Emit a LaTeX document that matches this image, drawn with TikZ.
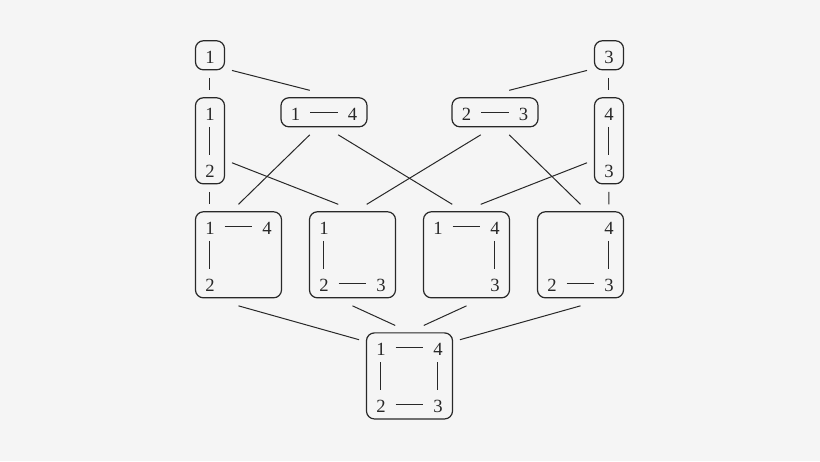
\documentclass[tikz,border=0pt]{standalone}
\usepackage{fontspec}
\setmainfont{Liberation Serif}
\usepackage{tikz}
\definecolor{bg}{RGB}{245,245,245}
\definecolor{ink}{RGB}{40,40,40}

\begin{document}
\begin{tikzpicture}[
    vtx/.style={inner sep=0pt, minimum size=0.5cm, text height=8.3pt, text depth=0pt, font=\fontsize{9.3}{11}\selectfont, text=ink},
    box/.style={draw=ink, rounded corners=4pt, inner sep=0pt, line width=0.6pt},
    link/.style={draw=ink, line width=0.5pt}]
  \fill[bg] (-3.684,0.970) rectangle (10.702,-7.118);

  % top row
  \node[box, minimum size=0.51cm](n1) at (0,0) {};
  \node[vtx](n1-1) at (0,0) {1};
  \node[box, minimum size=0.51cm](n3) at (7,0) {};
  \node[vtx](n3-3) at (7,0) {3};

  % one edge
  \node[box, minimum width=0.51cm, minimum height=1.51cm](n12) at (0,-1.5) {};
  \node[vtx](n12-1) at (0,-1) {1};
  \node[vtx](n12-2) at (0,-2) {2};
  \draw[link] (n12-1) -- (n12-2);

  \node[box, minimum width=1.51cm, minimum height=0.51cm](n14) at (2,-1) {};
  \node[vtx](n14-1) at (1.5,-1) {1};
  \node[vtx](n14-4) at (2.5,-1) {4};
  \draw[link] (n14-1) -- (n14-4);

  \node[box, minimum width=1.51cm, minimum height=0.51cm](n23) at (5,-1) {};
  \node[vtx](n23-2) at (4.5,-1) {2};
  \node[vtx](n23-3) at (5.5,-1) {3};
  \draw[link] (n23-2) -- (n23-3);

  \node[box, minimum width=0.51cm, minimum height=1.51cm](n43) at (7,-1.5) {};
  \node[vtx](n43-4) at (7,-1) {4};
  \node[vtx](n43-3) at (7,-2) {3};
  \draw[link] (n43-4) -- (n43-3);

  % two edges
  \node[box, minimum size=1.51cm](n142) at (0.5,-3.5) {};
  \node[vtx](n142-1) at (0,-3) {1};
  \node[vtx](n142-4) at (1,-3) {4};
  \node[vtx](n142-2) at (0,-4) {2};
  \draw[link] (n142-1) -- (n142-4);
  \draw[link] (n142-1) -- (n142-2);

  \node[box, minimum size=1.51cm](n123) at (2.5,-3.5) {};
  \node[vtx](n123-1) at (2,-3) {1};
  \node[vtx](n123-2) at (2,-4) {2};
  \node[vtx](n123-3) at (3,-4) {3};
  \draw[link] (n123-1) -- (n123-2);
  \draw[link] (n123-2) -- (n123-3);

  \node[box, minimum size=1.51cm](n143) at (4.5,-3.5) {};
  \node[vtx](n143-1) at (4,-3) {1};
  \node[vtx](n143-4) at (5,-3) {4};
  \node[vtx](n143-3) at (5,-4) {3};
  \draw[link] (n143-1) -- (n143-4);
  \draw[link] (n143-4) -- (n143-3);

  \node[box, minimum size=1.51cm](n423) at (6.5,-3.5) {};
  \node[vtx](n423-4) at (7,-3) {4};
  \node[vtx](n423-2) at (6,-4) {2};
  \node[vtx](n423-3) at (7,-4) {3};
  \draw[link] (n423-4) -- (n423-3);
  \draw[link] (n423-2) -- (n423-3);

  % all edges
  \node[box, minimum size=1.51cm](n1234) at (3.5,-5.625) {};
  \node[vtx](n1234-1) at (3,-5.125) {1};
  \node[vtx](n1234-4) at (4,-5.125) {4};
  \node[vtx](n1234-2) at (3,-6.125) {2};
  \node[vtx](n1234-3) at (4,-6.125) {3};
  \draw[link] (n1234-1) -- (n1234-4);
  \draw[link] (n1234-1) -- (n1234-2);
  \draw[link] (n1234-4) -- (n1234-3);
  \draw[link] (n1234-2) -- (n1234-3);

  % order lines
  \draw[link] ([yshift=-0.13cm]n1.south) -- ([yshift=0.12cm]n12.north);
  \draw[link] ([xshift=0.12cm]n1.south east) -- ([xshift=-0.25cm,yshift=0.12cm]n14.north);
  \draw[link] ([xshift=-0.12cm]n3.south west) -- ([xshift=0.25cm,yshift=0.12cm]n23.north);
  \draw[link] ([yshift=-0.13cm]n3.south) -- ([yshift=0.12cm]n43.north);

  \draw[link] ([yshift=-0.13cm]n12.south) -- ([xshift=-0.5cm,yshift=0.12cm]n142.north);
  \draw[link] ([xshift=0.12cm,yshift=0.38cm]n12.south east) -- ([xshift=-0.25cm,yshift=0.12cm]n123.north);
  \draw[link] ([xshift=-0.25cm,yshift=-0.13cm]n14.south) -- ([yshift=0.12cm]n142.north);
  \draw[link] ([xshift=0.25cm,yshift=-0.13cm]n14.south) -- ([xshift=-0.25cm,yshift=0.12cm]n143.north);
  \draw[link] ([xshift=-0.25cm,yshift=-0.13cm]n23.south) -- ([xshift=0.25cm,yshift=0.12cm]n123.north);
  \draw[link] ([xshift=0.25cm,yshift=-0.13cm]n23.south) -- ([yshift=0.12cm]n423.north);
  \draw[link] ([xshift=-0.12cm,yshift=0.38cm]n43.south west) -- ([xshift=0.25cm,yshift=0.12cm]n143.north);
  \draw[link] ([yshift=-0.13cm]n43.south) -- ([xshift=0.5cm,yshift=0.12cm]n423.north);

  \draw[link] ([yshift=-0.13cm]n142.south) -- ([xshift=-0.12cm,yshift=-0.13cm]n1234.north west);
  \draw[link] ([yshift=-0.13cm]n123.south) -- ([xshift=-0.25cm,yshift=0.12cm]n1234.north);
  \draw[link] ([yshift=-0.13cm]n143.south) -- ([xshift=0.25cm,yshift=0.12cm]n1234.north);
  \draw[link] ([yshift=-0.13cm]n423.south) -- ([xshift=0.12cm,yshift=-0.13cm]n1234.north east);
\end{tikzpicture}
\end{document}
